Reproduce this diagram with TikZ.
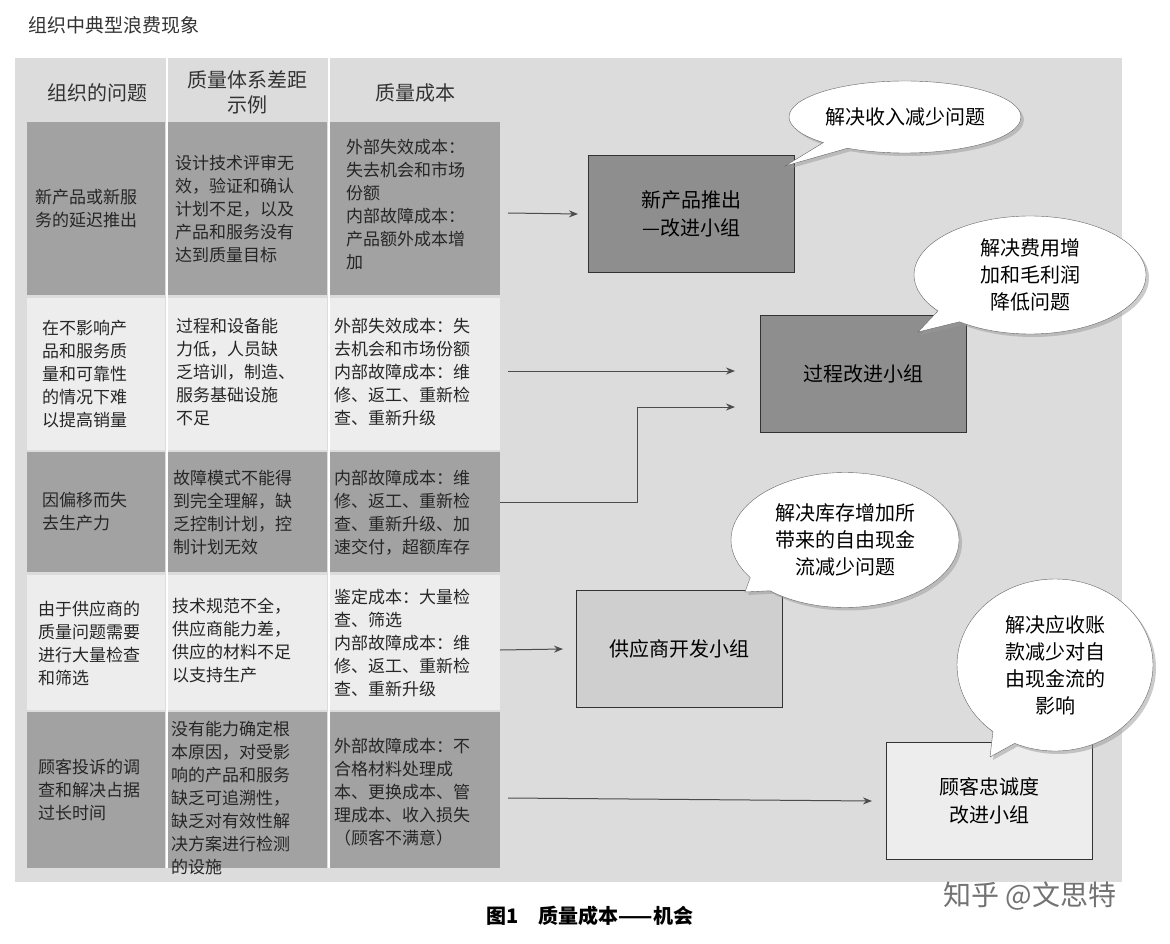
\documentclass[tikz,border=0pt]{standalone}
\usepackage{fontspec}
\setmainfont{Noto Sans CJK SC}
\usetikzlibrary{shapes.callouts,arrows.meta,shadows}
\definecolor{dk}{HTML}{A2A2A2}
\definecolor{lt}{HTML}{EDEDED}
\definecolor{bg}{HTML}{DCDCDC}
\definecolor{bxd}{HTML}{8E8E8E}
\definecolor{bxl}{HTML}{CFCFCF}
\begin{document}
\begin{tikzpicture}[x=1pt,y=-1pt,
 txt/.style={font=\fontsize{17}{23}\selectfont,text=black!85,align=left,inner sep=0pt},
 grp/.style={draw=black!80,line width=1pt,font=\fontsize{20}{28}\selectfont,align=center,minimum width=206pt,minimum height=117pt,anchor=north west},
 arr/.style={-{Stealth[length=9pt,width=7pt]},draw=black!70,line width=1pt},
 bub/.style={ellipse callout,draw=black!60,fill=white,font=\fontsize{20}{27}\selectfont,align=center,drop shadow={shadow xshift=3pt,shadow yshift=-3pt,fill=black!40},inner sep=2pt}]
\useasboundingbox (0,0) rectangle (1170,944);
\fill[white] (0,0) rectangle (1170,944);
\node[anchor=west,font=\fontsize{19}{24}\selectfont,text=black!80] (title) at (25,25) {组织中典型浪费现象};
\fill[bg] (15,58) rectangle (1122,882);
% rows
\foreach \a/\b/\c in {122/295/dk,298/450/lt,452/572/dk,575/710/lt,712/868/dk}{
 \fill[\c] (27,\a) rectangle (165,\b);
 \fill[\c] (168,\a) rectangle (327,\b);
 \fill[\c] (330,\a) rectangle (500,\b);}
\draw[white,line width=2pt] (166.5,58) -- (166.5,868) (328.5,58) -- (328.5,868);
% header
\node[font=\fontsize{20}{25}\selectfont,text=black!80] (h1) at (97,93) {组织的问题};
\node[font=\fontsize{20}{25}\selectfont,text=black!80,align=center] (h2) at (247,92) {质量体系差距\\示例};
\node[font=\fontsize{20}{25}\selectfont,text=black!80] (h3) at (415,93) {质量成本};
% row1
\node[txt,anchor=west] (r1a) at (35,209) {新产品或新服\\务的延迟推出};
\node[txt,anchor=west] (r1b) at (175,209) {设计技术评审无\\效，验证和确认\\计划不足，以及\\产品和服务没有\\达到质量目标};
\node[txt,anchor=west] (r1c) at (346,205) {外部失效成本：\\失去机会和市场\\份额\\内部故障成本：\\产品额外成本增\\加};
% row2
\node[txt,anchor=west] (r2a) at (42,374) {在不影响产\\品和服务质\\量和可靠性\\的情况下难\\以提高销量};
\node[txt,anchor=west] (r2b) at (176,372) {过程和设备能\\力低，人员缺\\乏培训，制造、\\服务基础设施\\不足};
\node[txt,anchor=west] (r2c) at (334,372) {外部失效成本：失\\去机会和市场份额\\内部故障成本：维\\修、返工、重新检\\查、重新升级};
% row3
\node[txt,anchor=west] (r3a) at (42,512) {因偏移而失\\去生产力};
\node[txt,anchor=west] (r3b) at (173,513) {故障模式不能得\\到完全理解，缺\\乏控制计划，控\\制计划无效};
\node[txt,anchor=west] (r3c) at (334,513) {内部故障成本：维\\修、返工、重新检\\查、重新升级、加\\速交付，超额库存};
% row4
\node[txt,anchor=west] (r4a) at (38,643) {由于供应商的\\质量问题需要\\进行大量检查\\和筛选};
\node[txt,anchor=west] (r4b) at (172,641) {技术规范不全，\\供应商能力差，\\供应的材料不足\\以支持生产};
\node[txt,anchor=west] (r4c) at (334,643) {鉴定成本：大量检\\查、筛选\\内部故障成本：维\\修、返工、重新检\\查、重新升级};
% row5
\node[txt,anchor=west] (r5a) at (38,790) {顾客投诉的调\\查和解决占据\\过长时间};
\node[txt,anchor=west] (r5b) at (171,798) {没有能力确定根\\本原因，对受影\\响的产品和服务\\缺乏可追溯性，\\缺乏对有效性解\\决方案进行检测\\的设施};
\node[txt,anchor=west] (r5c) at (334,792) {外部故障成本：不\\合格材料处理成\\本、更换成本、管\\理成本、收入损失\\（顾客不满意）};
% boxes
\node[grp,fill=bxd] (g1) at (588,155) {新产品推出\\—改进小组};
\node[grp,fill=bxd] (g2) at (760,315) {过程改进小组};
\node[grp,fill=bxl] (g3) at (576,590) {供应商开发小组};
\node[grp,fill=lt] (g4) at (886,742) {顾客忠诚度\\改进小组};
% arrows
\coordinate (a1) at (508,213); \coordinate (a2) at (508,371);
\coordinate (a3) at (500,502); \coordinate (a4) at (500,650); \coordinate (a5) at (508,798);
\draw[arr] (a1) -- ([xshift=-10pt]g1.west);
\draw[arr] (a2) -- ++(227,0);
\draw[arr] (a3) -- (637,502) -- (637,407) -- (735,407);
\draw[arr] (a4) -- ([xshift=-13pt]g3.west);
\draw[arr] (a5) -- ([xshift=-14pt]g4.west);
% callouts
\node[bub,minimum width=225pt,minimum height=72pt,callout absolute pointer={(785,166)}] (c1) at (905,117) {解决收入减少问题};
\node[bub,minimum width=232pt,minimum height=118pt,callout absolute pointer={(918,332)}] (c2) at (1030,275) {解决费用增\\加和毛利润\\降低问题};
\node[bub,minimum width=228pt,minimum height=135pt,callout absolute pointer={(745,592)}] (c3) at (845,540) {解决库存增加所\\带来的自由现金\\流减少问题};
\node[bub,minimum width=196pt,minimum height=172pt,callout absolute pointer={(990,757)}] (c4) at (1055,665) {解决应收账\\款减少对自\\由现金流的\\影响};
% caption
\node[font=\fontsize{20}{25}\selectfont\bfseries] (cap) at (590,916) {图1\quad 质量成本——机会};
\node[font=\fontsize{28}{32}\selectfont,text=black!55] (wm) at (1030,896) {知乎 @文思特};
\end{tikzpicture}
\end{document}
